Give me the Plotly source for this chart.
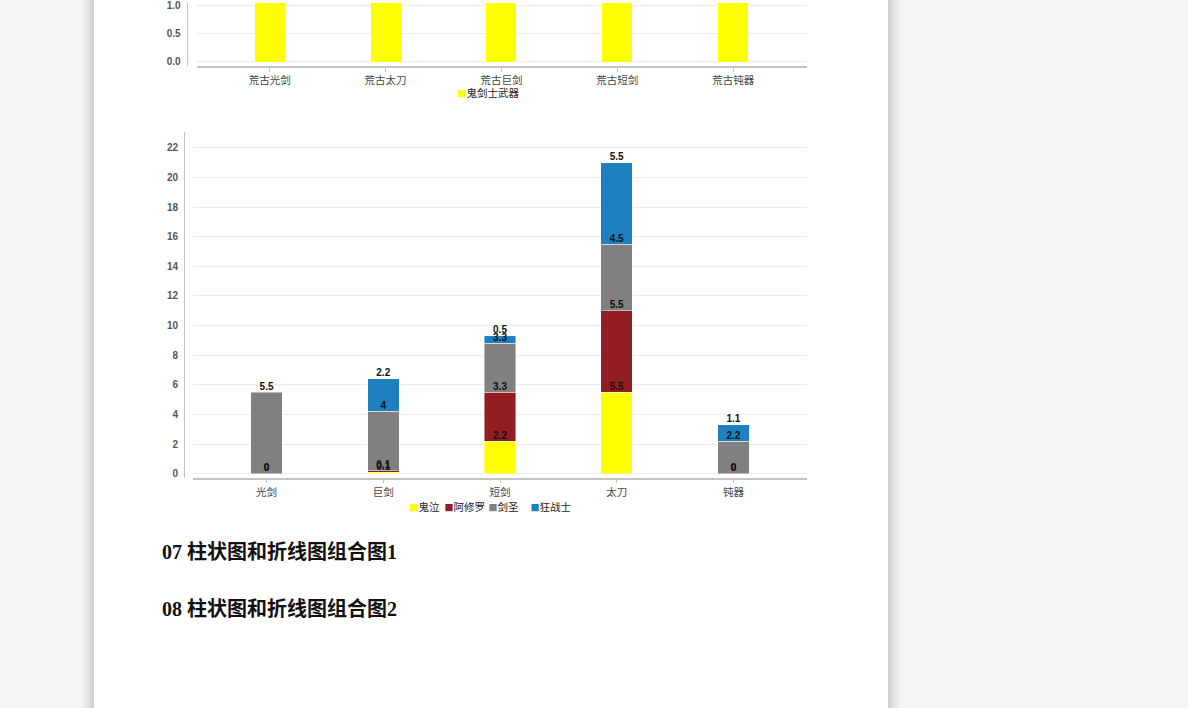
import plotly.graph_objects as go

W, H = 1188, 708

# ---------------- data ----------------
top_categories = ["荒古光剑", "荒古太刀", "荒古巨剑", "荒古短剑", "荒古钝器"]
top_series_name = "鬼剑士武器"
top_values = [2.0, 2.0, 2.0, 2.0, 2.0]   # bars run past the visible top of the page
top_yticks = [0.0, 0.5, 1.0]

categories = ["光剑", "巨剑", "短剑", "太刀", "钝器"]
series_names = ["鬼泣", "阿修罗", "剑圣", "狂战士"]
guiqi = [0, 0.1, 2.2, 5.5, 0]
axiuluo = [0, 0.1, 3.3, 5.5, 0]
jiansheng = [5.5, 4, 3.3, 4.5, 2.2]
kuangzhanshi = [None, 2.2, 0.5, 5.5, 1.1]
bottom_yticks = [0, 2, 4, 6, 8, 10, 12, 14, 16, 18, 20, 22]

headings = ["07 柱状图和折线图组合图1", "08 柱状图和折线图组合图2"]

# ---------------- styles ----------------
colors = ["#ffff00", "#921d22", "#808080", "#1f80c0"]
CJK = "Noto Sans CJK SC"
NUM = "Liberation Sans"
grid_c = "#ececec"
axis_c = "#c4c4c4"
hidden_marker = dict(symbol="square", size=1, color="rgba(0,0,0,0)", line=dict(width=0))


def px_x(p):
    return p / W


def px_y(p):
    return 1 - p / H


def swatch_name(name, col):
    return f"<span style='color:{col};font-size:9px'>■</span>{name}"


fig = go.Figure()

# top chart
fig.add_trace(go.Bar(
    x=top_categories, y=top_values, width=0.26,
    marker=dict(color=colors[0], line=dict(width=0)),
    showlegend=False, xaxis="x", yaxis="y", hoverinfo="skip"))
fig.add_trace(go.Scatter(
    x=[None], y=[None], mode="markers", name=swatch_name(top_series_name, colors[0]),
    marker=hidden_marker, xaxis="x", yaxis="y", legend="legend"))

# bottom stacked chart
series_vals = [guiqi, axiuluo, jiansheng, kuangzhanshi]
cum = [0.0] * len(categories)
for name, vals, col in zip(series_names, series_vals, colors):
    fig.add_trace(go.Bar(
        x=categories, y=vals, width=0.27, name=name,
        marker=dict(color=col, line=dict(width=0.8, color="rgba(255,255,255,0.55)")),
        showlegend=False, xaxis="x2", yaxis="y2", hoverinfo="skip"))
    lx, ly, lt = [], [], []
    for i, v in enumerate(vals):
        if v is None:
            continue
        cum[i] += v
        lx.append(categories[i])
        ly.append(cum[i])
        lt.append(f"{v:g}")
    fig.add_trace(go.Scatter(
        x=lx, y=ly, text=lt, mode="text", textposition="top center",
        textfont=dict(family=NUM, size=10, color="#111111", weight="bold"),
        showlegend=False, cliponaxis=False, xaxis="x2", yaxis="y2", hoverinfo="skip"))

legend_ids = ["legend2", "legend3", "legend4", "legend5"]
for name, col, lid in zip(series_names, colors, legend_ids):
    fig.add_trace(go.Scatter(
        x=[None], y=[None], mode="markers", name=swatch_name(name, col),
        marker=hidden_marker, xaxis="x2", yaxis="y2", legend=lid))

# ---------------- page background ----------------
shapes = []
for i in range(1, 13):
    shapes.append(dict(type="rect", xref="paper", yref="paper",
                       x0=px_x(94 - i), x1=px_x(888 + i), y0=-0.01, y1=1.01,
                       fillcolor="rgba(0,0,0,0.011)", line=dict(width=0), layer="below"))
shapes.append(dict(type="rect", xref="paper", yref="paper",
                   x0=px_x(94), x1=px_x(888), y0=-0.01, y1=1.01,
                   fillcolor="#ffffff", line=dict(width=0), layer="below"))

annotations = []
for txt, yy in zip(headings, [553, 610]):
    annotations.append(dict(
        text=txt, xref="paper", yref="paper", x=px_x(160), y=px_y(yy),
        xanchor="left", yanchor="middle", showarrow=False,
        font=dict(family="Liberation Serif, " + CJK, size=20, color="#111111", weight="bold")))

xfont = dict(family=CJK, size=10.5, color="#444444")
yfont = dict(family=NUM, size=10, color="#555555", weight="bold")
legfont = dict(family=CJK, size=10.5, color="#222222")


def leg(sq_center_px, ypx):
    return dict(orientation="h", x=px_x(sq_center_px - 44.5), y=px_y(ypx),
                xanchor="left", yanchor="middle",
                bgcolor="rgba(0,0,0,0)", font=legfont, itemwidth=30, borderwidth=0)


legend_layout = {}
for lid, sx in zip(legend_ids, [414, 449, 493, 535]):
    legend_layout[lid] = leg(sx, 507)

fig.update_layout(
    width=W, height=H,
    margin=dict(l=0, r=0, t=0, b=0),
    paper_bgcolor="#f4f5f7",
    plot_bgcolor="rgba(0,0,0,0)",
    barmode="stack",
    shapes=shapes,
    annotations=annotations,
    xaxis=dict(domain=[px_x(196.7), px_x(807.3)], anchor="y", range=[-0.63, 4.64],
               showline=True, linecolor=axis_c, linewidth=1.5,
               ticks="outside", ticklen=4, tickcolor=axis_c, showgrid=False,
               tickfont=xfont),
    yaxis=dict(domain=[px_y(63.3), 1], range=[-0.07, 1.048], anchor="free",
               position=px_x(186.7), showline=True, linecolor=axis_c, linewidth=1,
               tickvals=top_yticks, tickformat=".1f", ticks="", ticklabelstandoff=4,
               ticklabeloverflow="allow",
               showgrid=True, gridcolor=grid_c, zeroline=False, tickfont=yfont),
    xaxis2=dict(domain=[px_x(193), px_x(807)], anchor="y2", range=[-0.63, 4.63],
                showline=True, linecolor=axis_c, linewidth=1.5,
                ticks="outside", ticklen=4, tickcolor=axis_c, showgrid=False,
                tickfont=xfont),
    yaxis2=dict(domain=[px_y(478), px_y(130)], range=[-0.268, 23.07], anchor="free",
                position=px_x(184), showline=True, linecolor=axis_c, linewidth=1,
                tickvals=bottom_yticks, ticks="", ticklabelstandoff=4,
                showgrid=True, gridcolor=grid_c, zeroline=False, tickfont=yfont),
    legend=leg(462, 91),
    **legend_layout,
)

fig.write_html("out.html",
               config={"displayModeBar": False},
               post_script="document.body.style.margin='0';document.body.style.overflow='hidden';")
